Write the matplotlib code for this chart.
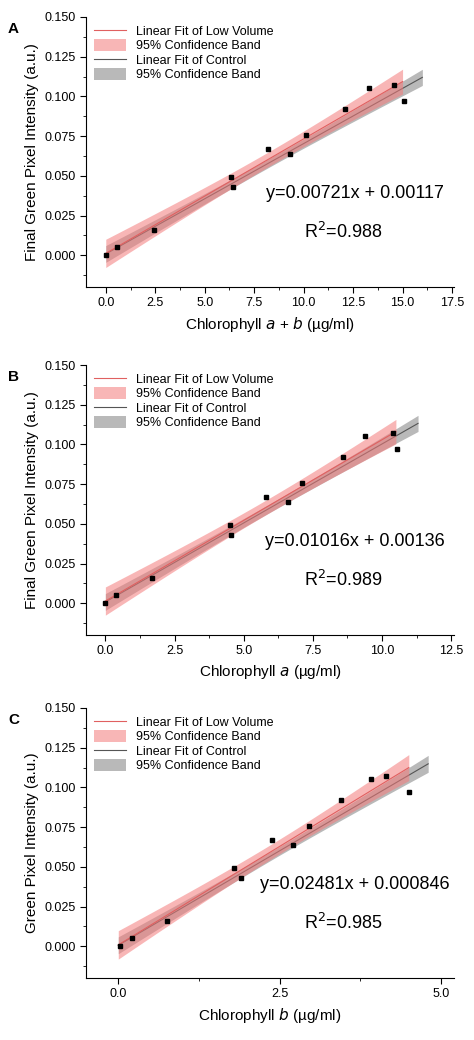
import numpy as np
import matplotlib
matplotlib.use('Agg')
import matplotlib.pyplot as plt
from matplotlib.ticker import MultipleLocator
from matplotlib.patches import Patch
from matplotlib.lines import Line2D

plt.rcParams['font.family'] = ['Liberation Sans', 'DejaVu Sans']

y_vals = [0.0, 0.005, 0.016, 0.049, 0.043, 0.067, 0.064, 0.076, 0.092, 0.105, 0.107, 0.097]
x_ab = [0.0, 0.57, 2.45, 6.35, 6.45, 8.2, 9.3, 10.1, 12.1, 13.3, 14.55, 15.05]
x_a = [0.0, 0.38, 1.7, 4.5, 4.55, 5.8, 6.6, 7.1, 8.6, 9.4, 10.4, 10.55]
x_b = [0.02, 0.22, 0.75, 1.8, 1.9, 2.38, 2.7, 2.96, 3.45, 3.91, 4.15, 4.5]

panels = [
    dict(tag='A', x=x_ab, fit=(0.00721, 0.00117), ctrl=(0.00695, 0.0008), xend=(15.0, 16.0),
         xlim=(-1.0, 17.6), xmax=17.5, step=2.5, xlabel='Chlorophyll $\\it{a}$ + $\\it{b}$ (µg/ml)',
         ylabel='Final Green Pixel Intensity (a.u.)', eq='y=0.00721x + 0.00117', r2='0.988'),
    dict(tag='B', x=x_a, fit=(0.01016, 0.00136), ctrl=(0.00995, 0.0008), xend=(10.5, 11.3),
         xlim=(-0.7, 12.6), xmax=12.5, step=2.5, xlabel='Chlorophyll $\\it{a}$ (µg/ml)',
         ylabel='Final Green Pixel Intensity (a.u.)', eq='y=0.01016x + 0.00136', r2='0.989'),
    dict(tag='C', x=x_b, fit=(0.02481, 0.000846), ctrl=(0.0238, 0.0006), xend=(4.5, 4.8),
         xlim=(-0.5, 5.2), xmax=5.0, step=2.5, xlabel='Chlorophyll $\\it{b}$ (µg/ml)',
         ylabel='Green Pixel Intensity (a.u.)', eq='y=0.02481x + 0.000846', r2='0.985'),
]

fig = plt.figure(figsize=(4.74, 10.4), dpi=100)
tops = [17, 365, 708]
for p, top in zip(panels, tops):
    ax = fig.add_axes([86 / 474, 1 - (top + 270) / 1040, 368 / 474, 270 / 1040])
    x = np.array(p['x'])
    n = len(x)
    xm = x.mean()
    sxx = ((x - xm) ** 2).sum()

    for (m, b), x1, col, fc, alpha, scale, z in [
        (p['ctrl'], p['xend'][1], '#555555', '#808080', 0.55, 0.0095, 2),
        (p['fit'], p['xend'][0], '#e06060', '#f47a7a', 0.55, 0.016, 3),
    ]:
        xs = np.linspace(0, x1, 100)
        ys = m * xs + b
        hw = scale * np.sqrt(1 / n + (xs - xm) ** 2 / sxx)
        ax.fill_between(xs, ys - hw, ys + hw, color=fc, alpha=alpha, lw=0, zorder=z)
        ax.plot(xs, ys, color=col, lw=0.8, zorder=z + 0.5)
    ax.plot(x, y_vals, 's', color='black', ms=2.5, zorder=6)

    handles = [Line2D([], [], color='#e06060', lw=0.8), Patch(color='#f47a7a', alpha=0.55, lw=0),
               Line2D([], [], color='#555555', lw=0.8), Patch(color='#808080', alpha=0.55, lw=0)]
    labels = ['Linear Fit of Low Volume', '95% Confidence Band', 'Linear Fit of Control', '95% Confidence Band']
    ax.legend(handles, labels, loc='upper left', frameon=False, fontsize=9,
              handlelength=2.6, handleheight=1.1, labelspacing=0.1, borderaxespad=0.2)

    ax.text(0.73, 0.33, p['eq'], transform=ax.transAxes, ha='center', fontsize=13)
    ax.text(0.70, 0.18, 'R$^2$=' + p['r2'], transform=ax.transAxes, ha='center', fontsize=13)

    ax.set_xlim(*p['xlim'])
    ax.set_ylim(-0.02, 0.15)
    ax.set_xticks(np.arange(0, p['xmax'] + 0.01, p['step']))
    ax.xaxis.set_minor_locator(MultipleLocator(p['step'] / 2))
    ax.yaxis.set_major_locator(MultipleLocator(0.025))
    ax.yaxis.set_minor_locator(MultipleLocator(0.0125))
    ax.yaxis.set_major_formatter(plt.FuncFormatter(lambda v, _: f'{v:.3f}'))
    ax.xaxis.set_major_formatter(plt.FuncFormatter(lambda v, _: f'{v:.1f}'))
    for s in ['top', 'right']:
        ax.spines[s].set_visible(False)
    ax.tick_params(labelsize=9, direction='out', length=4)
    ax.tick_params(which='minor', length=2.5)
    ax.set_xlabel(p['xlabel'], fontsize=11)
    ax.set_ylabel(p['ylabel'], fontsize=11)
    fig.text(8 / 474, 1 - (top + 5) / 1040, p['tag'], fontsize=11, fontweight='bold', va='top')

fig.savefig('out.png', dpi=100)
